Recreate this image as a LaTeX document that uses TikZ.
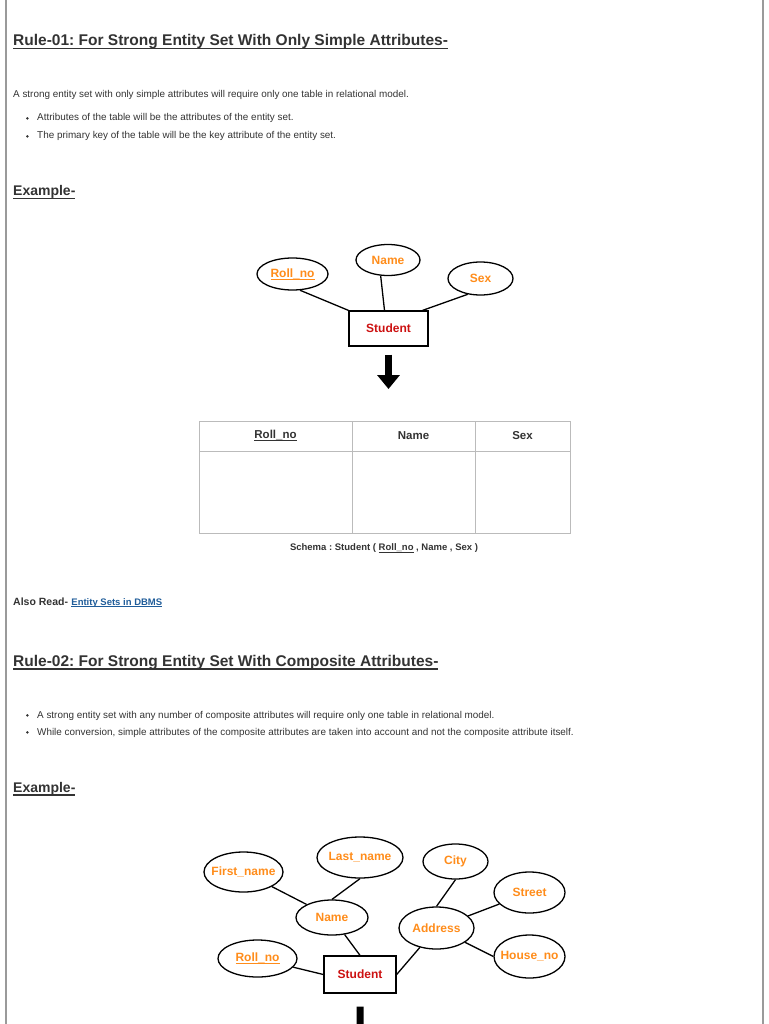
\documentclass[tikz,border=0pt]{standalone}
\usepackage{fontspec}
\setmainfont{Liberation Sans}
\usetikzlibrary{shapes.geometric, arrows.meta, positioning}
\frenchspacing

\definecolor{textgray}{HTML}{333333}
\definecolor{attrorange}{HTML}{FF8C1A}
\definecolor{entityred}{HTML}{CC1111}
\definecolor{linkblue}{HTML}{1F5C99}
\definecolor{framegray}{HTML}{9A9A9A}
\definecolor{cellgray}{HTML}{BBBBBB}

\newsavebox{\ulsave}
\newcommand{\ulText}[3]{\sbox\ulsave{#3}\rlap{\rule[-#1]{\wd\ulsave}{#2}}\usebox\ulsave}

\begin{document}
\begin{tikzpicture}[
  x=1pt, y=-1pt,
  heading/.style={anchor=base west, inner sep=0pt, text=textgray, font=\bfseries\fontsize{15.5}{18}\selectfont},
  example/.style={anchor=base west, inner sep=0pt, text=textgray, font=\bfseries\fontsize{14}{16}\selectfont},
  body/.style={anchor=base west, inner sep=0pt, text=textgray, font=\fontsize{9.9}{12}\selectfont},
  bulletdot/.style={circle, fill=textgray, inner sep=0pt, minimum size=2.8pt},
  attr/.style={draw, ellipse, line width=1.3pt, inner ysep=0pt, inner xsep=-6pt, text=attrorange, font=\bfseries\fontsize{12}{14}\selectfont},
  entity/.style={draw, rectangle, line width=1.3pt, inner sep=0pt, text=entityred, font=\bfseries\fontsize{12}{14}\selectfont},
  link/.style={line width=1.3pt},
  bigarrow/.style={line width=7pt, -{Triangle[width=22pt,length=14pt]}},
  cell/.style={draw=cellgray, line width=1pt, inner sep=0pt, outer sep=0pt, text=textgray, font=\bfseries\fontsize{11.5}{13}\selectfont}
]

\useasboundingbox (0,0) rectangle (768,1024);
\clip (0,0) rectangle (768,1024);

% Frame
\draw[framegray, line width=2pt] (5.5,0) -- (5.5,1024);
\draw[framegray, line width=2pt] (763,0) -- (763,1024);

% Rule 01
\node[heading] (rule1) at (13,46) {\ulText{3.5pt}{1.3pt}{Rule-01: For Strong Entity Set With Only Simple Attributes-}};
\node[body] (intro1) at (13,98) {A strong entity set with only simple attributes will require only one table in relational model.};
\node[body] (bullet1a) at (37,121) {Attributes of the table will be the attributes of the entity set.};
\node[body] (bullet1b) at (37,139) {The primary key of the table will be the key attribute of the entity set.};
\node[bulletdot, left=8pt of bullet1a] (dot1a) {};
\node[bulletdot, left=8pt of bullet1b] (dot1b) {};
\node[example] (example1) at (13,196) {\ulText{3.5pt}{1.3pt}{Example-}};

% Nodes
\node[entity, minimum width=79pt, minimum height=35pt] (student1) at (388.5,328.5) {Student};
\node[attr, minimum width=71pt, minimum height=32pt] (rollno1) at (292.5,274) {\ulText{2.5pt}{1pt}{Roll\_no}};
\node[attr, minimum width=64pt, minimum height=31pt] (name1) at (388,260) {Name};
\node[attr, minimum width=65pt, minimum height=33pt] (sex1) at (480.5,278.5) {Sex};
\coordinate (arrow1tip) at (388.5,389);

% Arrows
\draw[link] (rollno1.-65) -- (student1.north west);
\draw[link] (name1.-115) -- ([xshift=-4pt]student1.north);
\draw[link] (sex1.-129) -- ([xshift=-6pt]student1.north east);
\draw[bigarrow] ([yshift=-8pt]student1.south) -- (arrow1tip);

% Table
\node[cell, minimum width=153pt, minimum height=30pt] (hroll) at (275.5,436) {\ulText{2.5pt}{1pt}{Roll\_no}};
\node[cell, minimum width=123pt, minimum height=30pt, right=0pt of hroll] (hname) {Name};
\node[cell, minimum width=95pt, minimum height=30pt, right=0pt of hname] (hsex) {Sex};
\node[cell, minimum width=153pt, minimum height=82pt, below=0pt of hroll] (broll) {};
\node[cell, minimum width=123pt, minimum height=82pt, below=0pt of hname] (bname) {};
\node[cell, minimum width=95pt, minimum height=82pt, below=0pt of hsex] (bsex) {};
\node[inner sep=0pt, text=textgray, font=\bfseries\fontsize{9.5}{11}\selectfont] (schema) at (384,548)
  {Schema : Student ( \ulText{2pt}{0.8pt}{Roll\_no} , Name , Sex )};

% Also read
\node[anchor=base west, inner sep=0pt, text=textgray, font=\bfseries\fontsize{10.5}{12}\selectfont] (alsoread) at (13,605) {Also Read-};
\node[anchor=base west, inner sep=0pt, text=linkblue, font=\bfseries\fontsize{9.5}{11}\selectfont] (entitysets) at ([xshift=3pt]alsoread.base east) {\ulText{2.2pt}{0.8pt}{Entity Sets in DBMS}};

% Rule 02
\node[heading] (rule2) at (13,666) {\ulText{3.5pt}{1.3pt}{Rule-02: For Strong Entity Set With Composite Attributes-}};
\node[body] (bullet2a) at (37,718) {A strong entity set with any number of composite attributes will require only one table in relational model.};
\node[body] (bullet2b) at (37,735) {While conversion, simple attributes of the composite attributes are taken into account and not the composite attribute itself.};
\node[bulletdot, left=8pt of bullet2a] (dot2a) {};
\node[bulletdot, left=8pt of bullet2b] (dot2b) {};
\node[example] (example2) at (13,792) {\ulText{3.5pt}{1.3pt}{Example-}};

% Nodes
\node[entity, minimum width=72pt, minimum height=37pt] (student2) at (360,974.5) {Student};
\node[attr, minimum width=72pt, minimum height=35pt] (name2) at (332,917.5) {Name};
\node[attr, minimum width=79pt, minimum height=40pt] (firstname2) at (243.5,872) {First\_name};
\node[attr, minimum width=86pt, minimum height=41pt] (lastname2) at (360,857.5) {Last\_name};
\node[attr, minimum width=79pt, minimum height=37pt] (rollno2) at (257.5,958.5) {\ulText{2.5pt}{1pt}{Roll\_no}};
\node[attr, minimum width=75pt, minimum height=42pt] (address2) at (436.5,928) {Address};
\node[attr, minimum width=65pt, minimum height=35pt] (city2) at (455.5,861.5) {City};
\node[attr, minimum width=71pt, minimum height=41pt] (street2) at (529.5,892.5) {Street};
\node[attr, minimum width=71pt, minimum height=43pt] (housenum2) at (529.5,956.5) {House\_no};
\coordinate (arrow2end) at (360.5,1050);

% Arrows
\draw[link] (firstname2) -- (name2);
\draw[link] (lastname2.south) -- (name2.north);
\draw[link] (name2) -- (student2.north);
\draw[link] (rollno2) -- (student2.west);
\draw[link] (student2.east) -- (address2);
\draw[link] (city2.south) -- (address2.north);
\draw[link] (street2) -- (address2);
\draw[link] (housenum2.west) -- (address2);
\draw[bigarrow] ([yshift=-13pt]student2.south) -- (arrow2end);

\end{tikzpicture}
\end{document}
